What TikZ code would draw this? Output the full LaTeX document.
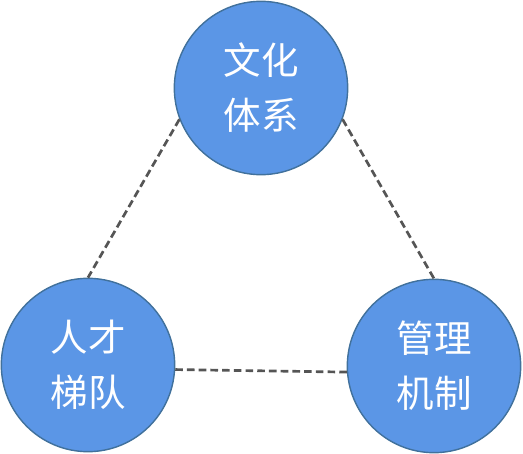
\documentclass[tikz,border=0pt]{standalone}
\usepackage{fontspec}
\newfontfamily\cjk{Noto Sans CJK SC}
\usepackage{tikz}
\definecolor{bolafill}{HTML}{5B96E6}
\definecolor{bolaborda}{HTML}{41719C}
\definecolor{linhacinza}{HTML}{555555}

\begin{document}
\begin{tikzpicture}[x=0.03cm,y=-0.03cm,
  bola/.style={circle,fill=bolafill,draw=bolaborda,line width=1.2pt,
    minimum size=5.2cm,inner sep=0pt,text=white,align=center,
    font=\cjk\fontsize{32}{47}\selectfont},
  ligacao/.style={draw=linhacinza,line width=2.3pt,dash pattern=on 6.5pt off 3.5pt}]
\useasboundingbox (0,0) rectangle (523,454);
% Circulos
\node[bola] (cultura) at (261,88) {文化\\体系};
\node[bola] (talento) at (88,365) {人才\\梯队};
\node[bola] (gestao) at (434,366) {管理\\机制};
% Ligacoes tracejadas
\draw[ligacao] (cultura.201) -- (talento.90);
\draw[ligacao] (cultura.339) -- (gestao.90);
\draw[ligacao] (talento.357) -- (gestao.184);
\end{tikzpicture}
\end{document}
